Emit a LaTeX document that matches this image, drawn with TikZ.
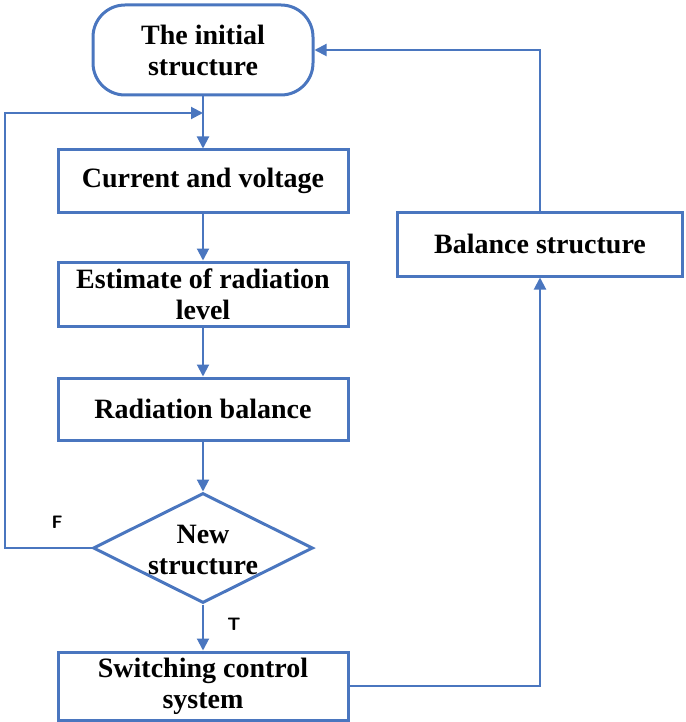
\documentclass[tikz,border=0pt]{standalone}
\usepackage{fontspec}
\setmainfont{Liberation Serif}
\usetikzlibrary{shapes.geometric,arrows.meta}
\definecolor{bl}{HTML}{4A76BF}
\begin{document}
\begin{tikzpicture}[x=1pt,y=-1pt,
 tx/.style={font=\fontsize{28}{31}\selectfont\bfseries},
 box/.style={tx,draw=bl,line width=3pt,minimum width=290pt,minimum height=62pt,align=center},
 ar/.style={draw=bl,line width=2pt,-{Triangle[length=12pt,width=12pt]}},
 ln/.style={draw=bl,line width=2pt}]
\useasboundingbox (0,0) rectangle (685,722);
\node[box,rounded corners=32pt,minimum width=220pt,minimum height=90pt] (init) at (203,50) {The initial\\structure};
\node[box] (cv) at (203,181) {Current and voltage};
\node[box,minimum height=64pt] (est) at (203,294) {Estimate of radiation\\level};
\node[box] (rb) at (203,409) {Radiation balance};
\node[draw=bl,line width=3pt,diamond,minimum width=220pt,minimum height=110pt,aspect=2,inner sep=0pt] (dec) at (203,548) {};
\node[tx,align=center] at (203,550) {New\\structure};
\node[box,minimum height=68pt] (sw) at (203,686) {Switching control\\system};
\node[box,minimum width=285pt,minimum height=64pt] (bal) at (540,244) {Balance structure};
\coordinate (m) at (203,113);
\draw[ln] (init) -- (m);
\draw[ar] (m) -- (cv);
\draw[ar] (cv) -- (est);
\draw[ar] (est) -- (rb);
\draw[ar] (rb) -- (dec);
\draw[ar] (dec) -- (sw);
\draw[ar] (dec.west) -- (5,548) -- (5,113) -- (m);
\draw[ar] (sw.east) -| (bal.south);
\draw[ar] (bal.north) |- (init.east);
\node[font=\fontsize{18}{20}\selectfont\sffamily\bfseries] at (57,522) {F};
\node[font=\fontsize{18}{20}\selectfont\sffamily\bfseries] at (234,624) {T};
\end{tikzpicture}
\end{document}
